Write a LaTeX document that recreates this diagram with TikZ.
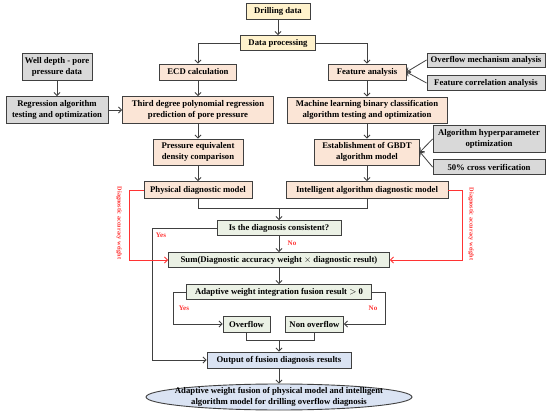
\documentclass[tikz,border=0pt]{standalone}
\usepackage{fontspec}
\setmainfont{Liberation Serif}
\usetikzlibrary{arrows.meta,shapes.geometric}
\definecolor{edge}{HTML}{404040}
\definecolor{yel}{HTML}{FFF2CC}
\definecolor{peach}{HTML}{FBE5D6}
\definecolor{grey}{HTML}{D9D9D9}
\definecolor{mint}{HTML}{EBF1E5}
\definecolor{sky}{HTML}{DAE3F3}
\definecolor{wred}{HTML}{FF3333}

\begin{document}
\begin{tikzpicture}[x=1pt,y=-1pt,
  box/.style={draw=edge,line width=0.9pt,align=center,inner sep=0pt,
    font=\bfseries\fontsize{8.7}{11}\selectfont},
  arr/.style={draw=edge,line width=0.8pt,-{Straight Barb[length=3pt,width=6pt]}},
  ln/.style={draw=edge,line width=0.8pt},
  warr/.style={draw=wred,line width=0.8pt,-{Straight Barb[length=3pt,width=6pt]}},
  tag/.style={text=wred,font=\bfseries\fontsize{7}{7}\selectfont,inner sep=0pt},
  wtag/.style={text=wred,font=\bfseries\fontsize{6.2}{7}\selectfont,inner sep=0pt,rotate=-90}]
  % margini
  \useasboundingbox (0,0) rectangle (550,415);

  % date de intrare
  \node[box,fill=yel,minimum width=64pt,minimum height=16pt] (drill) at (278,11) {Drilling data};
  \node[box,fill=yel,minimum width=75pt,minimum height=15pt] (proc) at (278,43) {Data processing};

  % ramura fizica
  \node[box,fill=grey,minimum width=70pt,minimum height=27pt] (well) at (57,67) {Well depth - pore\\pressure data};
  \node[box,fill=grey,minimum width=102pt,minimum height=27pt] (reg) at (57,110) {Regression algorithm\\testing and optimization};
  \node[box,fill=peach,minimum width=77pt,minimum height=16pt] (ecd) at (198,72) {ECD calculation};
  \node[box,fill=peach,minimum width=151pt,minimum height=27pt] (third) at (198,110) {Third degree polynomial regression\\prediction of pore pressure};
  \node[box,fill=peach,minimum width=90pt,minimum height=26pt] (press) at (198,152) {Pressure equivalent\\density comparison};
  \node[box,fill=peach,minimum width=108pt,minimum height=17pt] (phys) at (198,190) {Physical diagnostic model};

  % ramura inteligenta
  \node[box,fill=peach,minimum width=78pt,minimum height=16pt] (feat) at (367,72) {Feature analysis};
  \node[box,fill=grey,minimum width=118pt,minimum height=14pt] (mech) at (486,60) {Overflow mechanism analysis};
  \node[box,fill=grey,minimum width=118pt,minimum height=15pt] (corr) at (486,83) {Feature correlation analysis};
  \node[box,fill=peach,minimum width=160pt,minimum height=26pt] (ml) at (367,110) {Machine learning binary classification\\algorithm testing and optimization};
  \node[box,fill=peach,minimum width=105pt,minimum height=26pt] (gbdt) at (367,152) {Establishment of GBDT\\algorithm model};
  \node[box,fill=grey,minimum width=112pt,minimum height=27pt] (hyper) at (489,139) {Algorithm hyperparameter\\optimization};
  \node[box,fill=grey,minimum width=112pt,minimum height=15pt] (cross) at (489,167) {50\% cross verification};
  \node[box,fill=peach,minimum width=162pt,minimum height=17pt] (intel) at (367,190) {Intelligent algorithm diagnostic model};

  % fuziune
  \node[box,fill=mint,minimum width=124pt,minimum height=15pt] (cons) at (279,228) {Is the diagnosis consistent?};
  \node[box,fill=mint,minimum width=221pt,minimum height=15pt] (sum) at (279,260) {Sum(Diagnostic accuracy weight $\times$ diagnostic result)};
  \node[box,fill=mint,minimum width=185pt,minimum height=15pt] (adapt) at (279,292) {Adaptive weight integration fusion result $>$ 0};
  \node[box,fill=mint,minimum width=47pt,minimum height=16pt] (over) at (246.5,324) {Overflow};
  \node[box,fill=mint,minimum width=58pt,minimum height=16pt] (nover) at (314.5,324) {Non overflow};
  \node[box,fill=sky,minimum width=144pt,minimum height=16pt] (out) at (279,360) {Output of fusion diagnosis results};
  \node[box,ellipse,fill=sky,minimum width=266pt,minimum height=26pt,
    label={[align=center,inner sep=0pt,font=\bfseries\fontsize{8.7}{11}\selectfont]center:Adaptive weight fusion of physical model and intelligent\\algorithm model for drilling overflow diagnosis}] (goal) at (279,397) {};

  % puncte de ramificare
  \coordinate (m1) at (279,208);
  \coordinate (m2) at (279,340);
  \coordinate (yc) at (152,228);
  \coordinate (ya) at (173,292);
  \coordinate (na) at (385,292);
  \coordinate (wl) at (129,190);
  \coordinate (wr) at (462,190);

  % conexiuni
  \draw[arr] (drill) -- (proc);
  \draw[arr] (proc.west) -| (ecd);
  \draw[arr] (proc.east) -| (feat);
  \draw[arr] (well) -- (reg);
  \draw[arr] (reg) -- (third);
  \draw[arr] (ecd) -- (third);
  \draw[arr] (third) -- (press);
  \draw[arr] (press) -- (phys);
  \draw[arr] (mech.west) -- (feat.east);
  \draw[arr] (corr.west) -- (feat.east);
  \draw[arr] (feat) -- (ml);
  \draw[arr] (ml) -- (gbdt);
  \draw[arr] (hyper.west) -- (gbdt.east);
  \draw[arr] (cross.west) -- (gbdt.east);
  \draw[arr] (gbdt) -- (intel);
  \draw[ln] (phys) |- (m1);
  \draw[ln] (intel) |- (m1);
  \draw[arr] (m1) -- (cons);
  \draw[arr] (cons) -- (sum);
  \draw[arr] (cons.west) -- (yc) |- (out.west);
  \draw[arr] (sum) -- (adapt);
  \draw[arr] (adapt.west) -- (ya) |- (over.west);
  \draw[arr] (adapt.east) -- (na) |- (nover.east);
  \draw[ln] (over) |- (m2);
  \draw[ln] (nover) |- (m2);
  \draw[arr] (m2) -- (out);
  \draw[arr] (out) -- (goal);

  % ponderi
  \draw[warr] (phys.west) -- (wl) |- (sum.west);
  \draw[warr] (intel.east) -- (wr) |- (sum.east);

  % etichete
  \node[tag] (yes1) at (161,235) {Yes};
  \node[tag] (no1) at (292,243) {No};
  \node[tag] (yes2) at (184,308) {Yes};
  \node[tag] (no2) at (373,308) {No};
  \node[wtag] (wtl) at (119,223) {Diagnostic accuracy weight};
  \node[wtag] (wtr) at (471,224) {Diagnostic accuracy weight};
\end{tikzpicture}
\end{document}
